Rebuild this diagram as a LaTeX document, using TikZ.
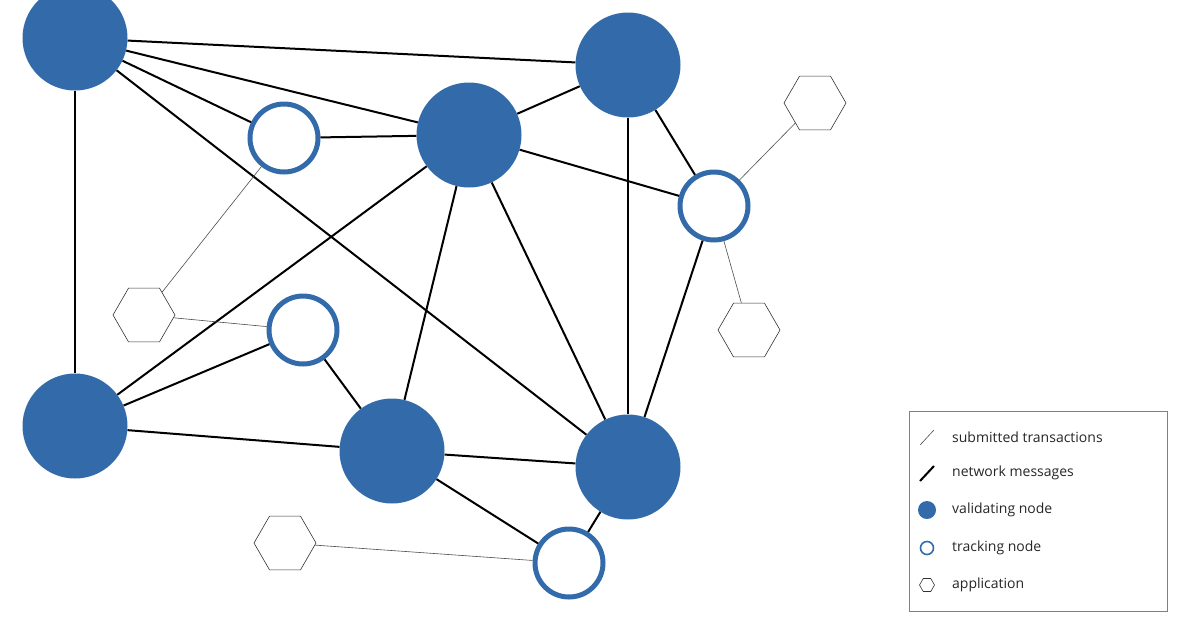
\documentclass[tikz,border=0pt]{standalone}
\usepackage{fontspec}
\setmainfont{Open Sans}
\usetikzlibrary{shapes.geometric}
\definecolor{vblue}{HTML}{336BAA}
\begin{document}
\begin{tikzpicture}[x=1pt,y=-1pt,
  val/.style={circle,fill=vblue,minimum size=105pt,inner sep=0pt},
  trk/.style={circle,draw=vblue,line width=5pt,fill=white,minimum size=68pt,inner sep=0pt},
  app/.style={regular polygon,regular polygon sides=6,draw=black!80,line width=0.6pt,fill=white,minimum size=62pt,inner sep=0pt},
  net/.style={line width=2pt,black},
  sub/.style={line width=0.6pt,black!70},
  lab/.style={anchor=west,font=\fontsize{14}{16}\selectfont,text=black!85,inner sep=0pt}]
\useasboundingbox (0,0) rectangle (1200,630);
\node[val] (v1) at (75,38) {};
\node[val] (v2) at (628,65) {};
\node[val] (v3) at (469,135) {};
\node[val] (v4) at (75,426) {};
\node[val] (v5) at (392,451) {};
\node[val] (v6) at (628,467) {};
\node[trk] (t1) at (284,138) {};
\node[trk] (t2) at (714,206) {};
\node[trk] (t3) at (303,330) {};
\node[trk] (t4) at (569,563) {};
\node[app] (h1) at (815,103) {};
\node[app] (h2) at (144,315) {};
\node[app] (h3) at (749,330) {};
\node[app] (h4) at (285,543) {};
\foreach \a/\b in {v1/v2,v1/t1,v1/v3,v1/v6,v1/v4,t1/v3,v3/v2,v3/t2,v3/v4,v3/v5,v3/v6,v2/v6,v2/t2,t2/v6,v4/t3,v4/v5,t3/v5,v5/v6,v5/t4,v6/t4}
  \draw[net] (\a) -- (\b);
\foreach \a/\b in {t1/h2,h2/t3,t2/h1,t2/h3,h4/t4}
  \draw[sub] (\a) -- (\b);
% legend
\node[draw=black!50,line width=0.6pt,minimum width=258pt,minimum height=200pt,inner sep=0pt] (leg) at (1038,511) {};
\coordinate (ls1) at (920,445); \coordinate (ls2) at (934,430);
\draw[sub] (ls1) -- (ls2);
\coordinate (ln1) at (920,481); \coordinate (ln2) at (934,466);
\draw[net] (ln1) -- (ln2);
\node[circle,fill=vblue,minimum size=18pt,inner sep=0pt] (lv) at (927,510) {};
\node[circle,draw=vblue,line width=1.6pt,minimum size=13pt,inner sep=0pt] (lt) at (927,548) {};
\node[regular polygon,regular polygon sides=6,draw=black!80,line width=0.6pt,minimum size=15pt,inner sep=0pt] (la) at (927,585) {};
\node[lab] (t-a) at (952,437) {submitted transactions};
\node[lab] (t-b) at (952,473) {network messages};
\node[lab] (t-c) at (952,510) {validating node};
\node[lab] (t-d) at (952,548) {tracking node};
\node[lab] (t-e) at (952,585) {application};
\end{tikzpicture}
\end{document}
